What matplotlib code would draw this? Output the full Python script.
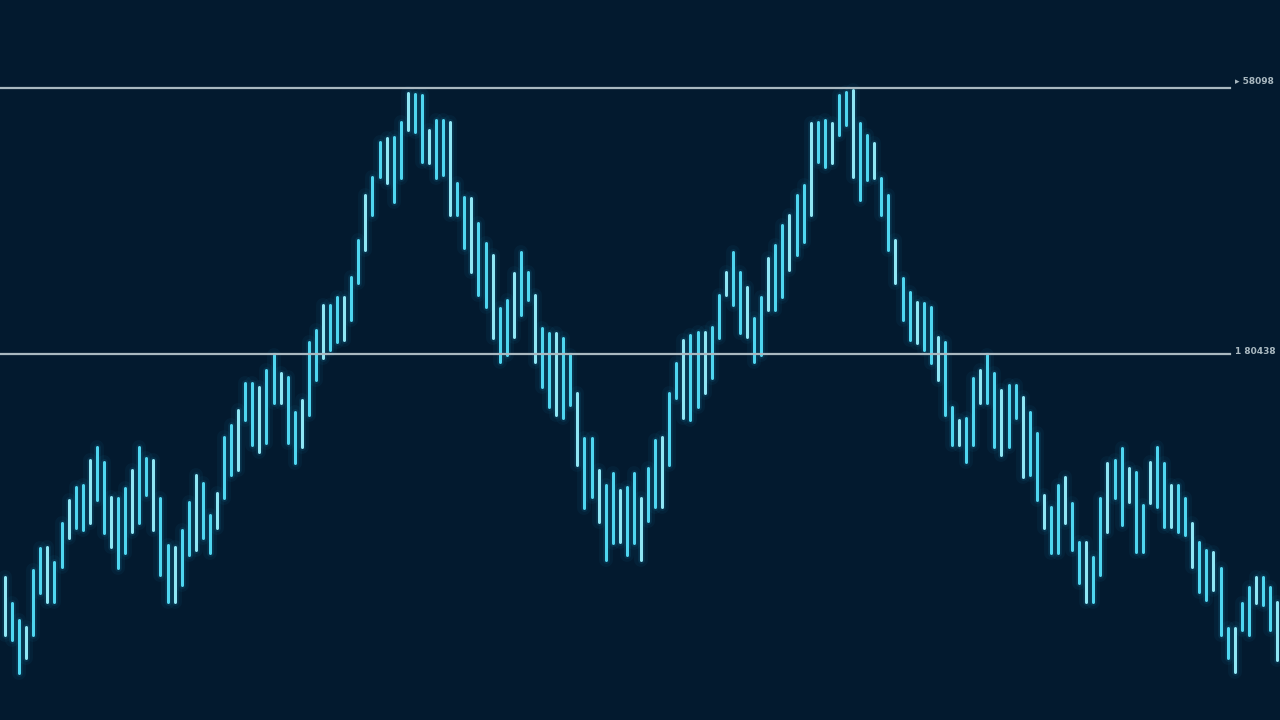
import matplotlib
matplotlib.use("Agg")
import matplotlib.pyplot as plt
import numpy as np

# ---- data (price units) ----
highs = [143, 117, 100, 93, 150, 172, 173, 158, 197, 220, 233, 235, 260, 273, 258, 223, 222, 232, 250, 273,
         262, 260, 222, 175, 173, 190, 218, 245, 237, 205, 227, 283, 295, 310, 337, 337, 333, 350, 365, 347,
         343, 308, 320, 378, 390, 415, 415, 423, 423, 443, 480, 525, 543, 578, 582, 583, 598, 627, 626, 625,
         590, 600, 600, 598, 537, 523, 522, 497, 477, 465, 412, 420, 447, 468, 448, 425, 392, 387, 387, 382,
         365, 327, 282, 282, 250, 235, 247, 230, 233, 247, 222, 252, 280, 283, 327, 357, 380, 385, 388, 388,
         393, 425, 448, 468, 448, 433, 402, 423, 462, 475, 495, 505, 525, 535, 597, 598, 600, 597, 625, 628,
         630, 597, 585, 577, 542, 525, 480, 442, 428, 418, 417, 413, 383, 378, 313, 300, 302, 342, 350, 365,
         347, 330, 335, 335, 323, 308, 287, 225, 213, 235, 243, 217, 178, 178, 163, 222, 257, 260, 272, 252,
         248, 215, 258, 273, 257, 235, 235, 222, 197, 178, 170, 168, 152, 92, 92, 117, 133, 143, 143, 133, 118]
lows = [85, 80, 47, 62, 85, 127, 118, 118, 153, 182, 192, 190, 197, 220, 187, 173, 152, 167, 188, 197,
        225, 190, 145, 118, 118, 135, 165, 170, 182, 167, 192, 222, 245, 250, 300, 275, 268, 277, 317, 317,
        277, 257, 273, 305, 340, 362, 370, 378, 380, 400, 437, 470, 505, 543, 537, 518, 542, 590, 588, 558,
        557, 542, 545, 505, 505, 472, 448, 425, 413, 382, 358, 365, 383, 405, 420, 358, 333, 313, 305, 302,
        315, 255, 212, 223, 198, 160, 177, 178, 165, 177, 160, 199, 213, 213, 255, 322, 302, 300, 313, 327,
        342, 382, 425, 415, 387, 383, 358, 365, 410, 410, 423, 450, 465, 478, 505, 558, 553, 557, 585, 595,
        543, 520, 540, 542, 505, 470, 437, 400, 380, 377, 370, 357, 340, 305, 275, 275, 258, 275, 317, 317,
        273, 265, 273, 302, 243, 245, 220, 192, 167, 167, 197, 170, 137, 118, 118, 145, 188, 222, 195, 218,
        168, 168, 217, 213, 193, 193, 188, 185, 153, 128, 120, 130, 85, 62, 48, 90, 85, 117, 115, 90, 60]
resistance = 632
neckline = 366
resistance_label = "\u25b8 58098"
neckline_label = "1 80438"

# ---- style ----
bg = "#031a2f"
bar_col = "#4fd6f0"
glow_col = "#1fb2e0"
line_col = "#a9b8c0"

fig = plt.figure(figsize=(12.8, 7.2), dpi=100, facecolor=bg)
ax = fig.add_axes([0, 0, 1, 1])
ax.set_facecolor(bg)

n = len(highs)
x = np.arange(n)
h = np.array(highs)
l = np.array(lows)

# glow layers
for lw, a in [(10, 0.05), (5, 0.10)]:
    lc = ax.vlines(x, l, h, colors=glow_col, linewidth=lw, alpha=a, zorder=2)
    lc.set_capstyle("round")

cols = [bar_col if i % 3 else "#8fe6f4" for i in range(n)]
lc = ax.vlines(x, l, h, colors=cols, linewidth=2.2, zorder=3)
lc.set_capstyle("round")

ax.axhline(resistance, xmin=0, xmax=1230 / 1280, color=line_col, lw=1.6, zorder=4)
ax.axhline(neckline, xmin=0, xmax=1230 / 1280, color=line_col, lw=1.6, zorder=4)

ax.text(1235 / 1280, resistance + 6, resistance_label, transform=ax.get_yaxis_transform(),
        color=line_col, fontsize=6.5, va="center", ha="left", fontweight="bold")
ax.text(1235 / 1280, neckline + 3, neckline_label, transform=ax.get_yaxis_transform(),
        color=line_col, fontsize=6.5, va="center", ha="left", fontweight="bold")

ax.set_xlim(-5 / 7.067, (1280 - 5) / 7.067)
ax.set_ylim(0, 720)
ax.axis("off")

fig.savefig("out.png", dpi=100, facecolor=bg)
